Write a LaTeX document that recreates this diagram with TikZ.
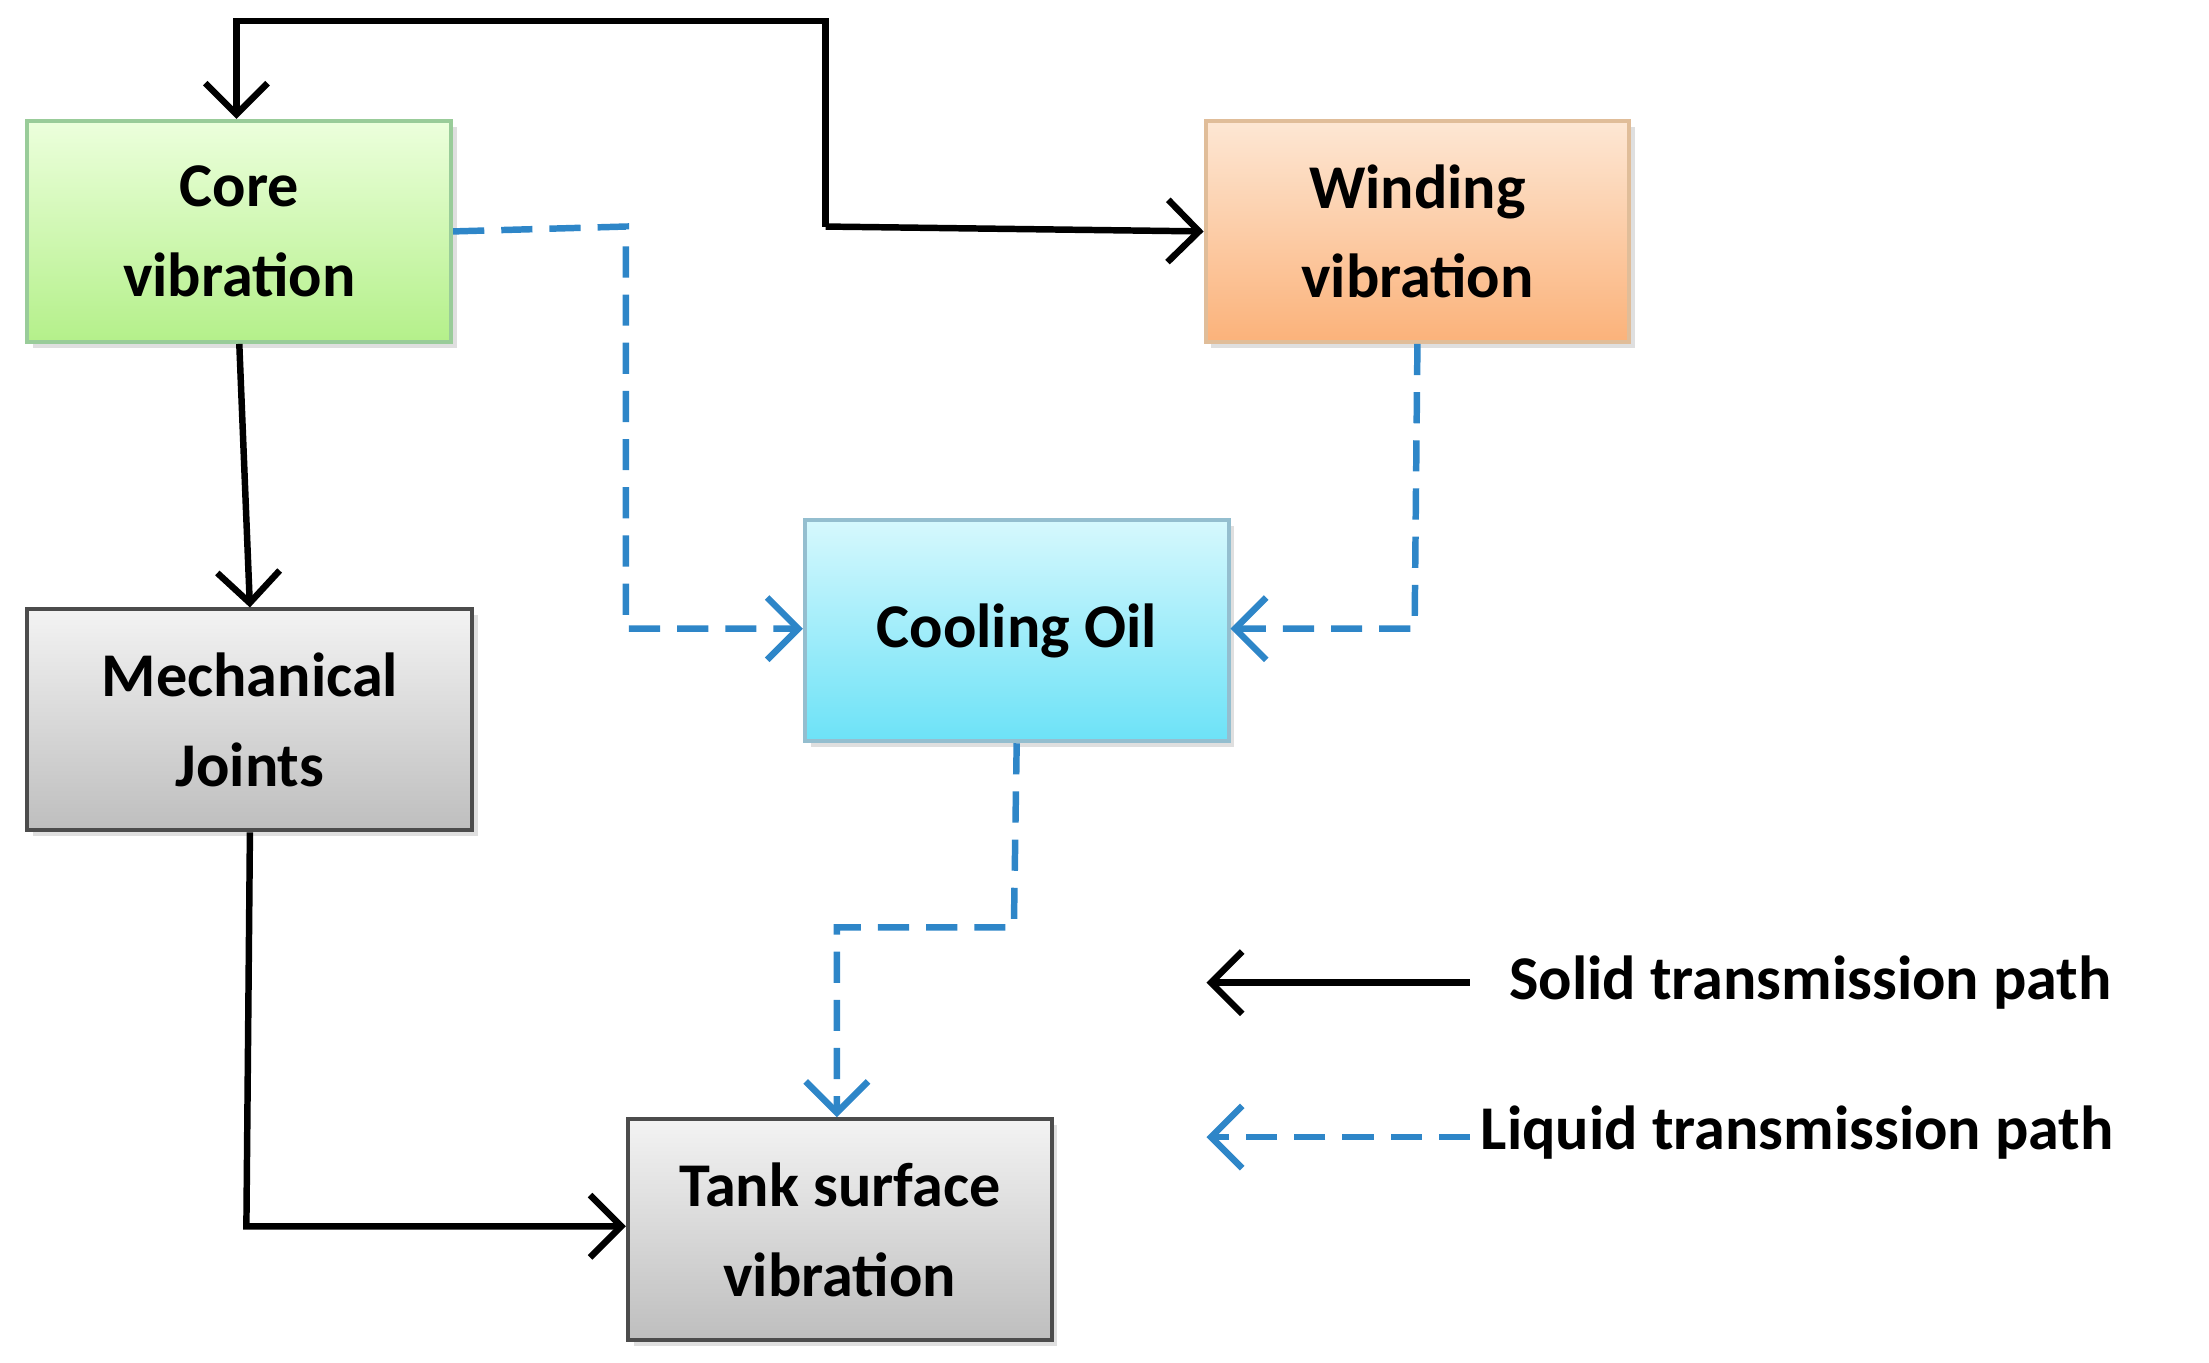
\documentclass[tikz,border=0pt]{standalone}
\usepackage{fontspec}
\setmainfont{Carlito}
\usetikzlibrary{arrows.meta,shadows}
\definecolor{lb}{HTML}{2E86C8}
\begin{document}
\begin{tikzpicture}[x=0.01cm,y=-0.01cm,
  box/.style={draw=#1, line width=0.8pt, minimum width=2.99cm, minimum height=1.56cm, align=center,
    font=\fontsize{12.5}{18}\selectfont\bfseries, anchor=north west, inner sep=0pt, drop shadow={opacity=0.25,shadow xshift=0.04cm,shadow yshift=-0.04cm}},
  sol/.style={line width=1.3pt, -{Straight Barb[length=2.2mm,width=4.4mm]}},
  liq/.style={line width=1.3pt, lb, dash pattern=on 0.22cm off 0.12cm, -{Straight Barb[length=2.2mm,width=4.4mm]}},
  lab/.style={font=\fontsize{12.5}{15}\selectfont\bfseries, anchor=west, inner sep=0pt}]
\useasboundingbox (0,0) rectangle (1560,962);
\node[box=green!50!black!40, top color={rgb,255:red,236;green,255;blue,220}, bottom color={rgb,255:red,180;green,240;blue,138}] (core) at (18,84) {Core\\vibration};
\node[box=orange!70!black!40, top color={rgb,255:red,253;green,231;blue,212}, bottom color={rgb,255:red,251;green,178;blue,122}] (wind) at (850,84) {Winding\\vibration};
\node[box=cyan!60!black!50, top color={rgb,255:red,214;green,248;blue,253}, bottom color={rgb,255:red,108;green,226;blue,247}] (oil) at (567,366) {Cooling Oil};
\node[box=black!70, minimum width=3.14cm, top color={rgb,255:red,243;green,243;blue,243}, bottom color={rgb,255:red,190;green,190;blue,190}] (mech) at (18,429) {Mechanical\\Joints};
\node[box=black!70, top color={rgb,255:red,243;green,243;blue,243}, bottom color={rgb,255:red,190;green,190;blue,190}] (tank) at (442,789) {Tank surface\\vibration};
\coordinate (j) at (583,160);
\draw[sol] (j) -- (wind.west);
\draw[sol] (j) -- (583,15) -- (167,15) -- (core.north -| 167,0);
\draw[sol] (core.south) -- (mech.north);
\draw[sol] (mech.south) -- (174,866) -- (tank.west |- 0,866);
\draw[liq] (core.east) -- (442,160) -- (442,444) -- (oil.west |- 0,444);
\draw[liq] (wind.south) -- (999,444) -- (oil.east |- 0,444);
\draw[liq] (oil.south) -- (716,655) -- (591,655) -- (tank.north -| 591,0);
\coordinate (s1) at (1038,694); \coordinate (s2) at (852,694);
\coordinate (d1) at (1038,803); \coordinate (d2) at (852,803);
\draw[sol] (s1) -- (s2);
\draw[liq] (d1) -- (d2);
\node[lab] (ls) at (1065,694) {Solid transmission path};
\node[lab] (ll) at (1045,800) {Liquid transmission path};
\end{tikzpicture}
\end{document}
